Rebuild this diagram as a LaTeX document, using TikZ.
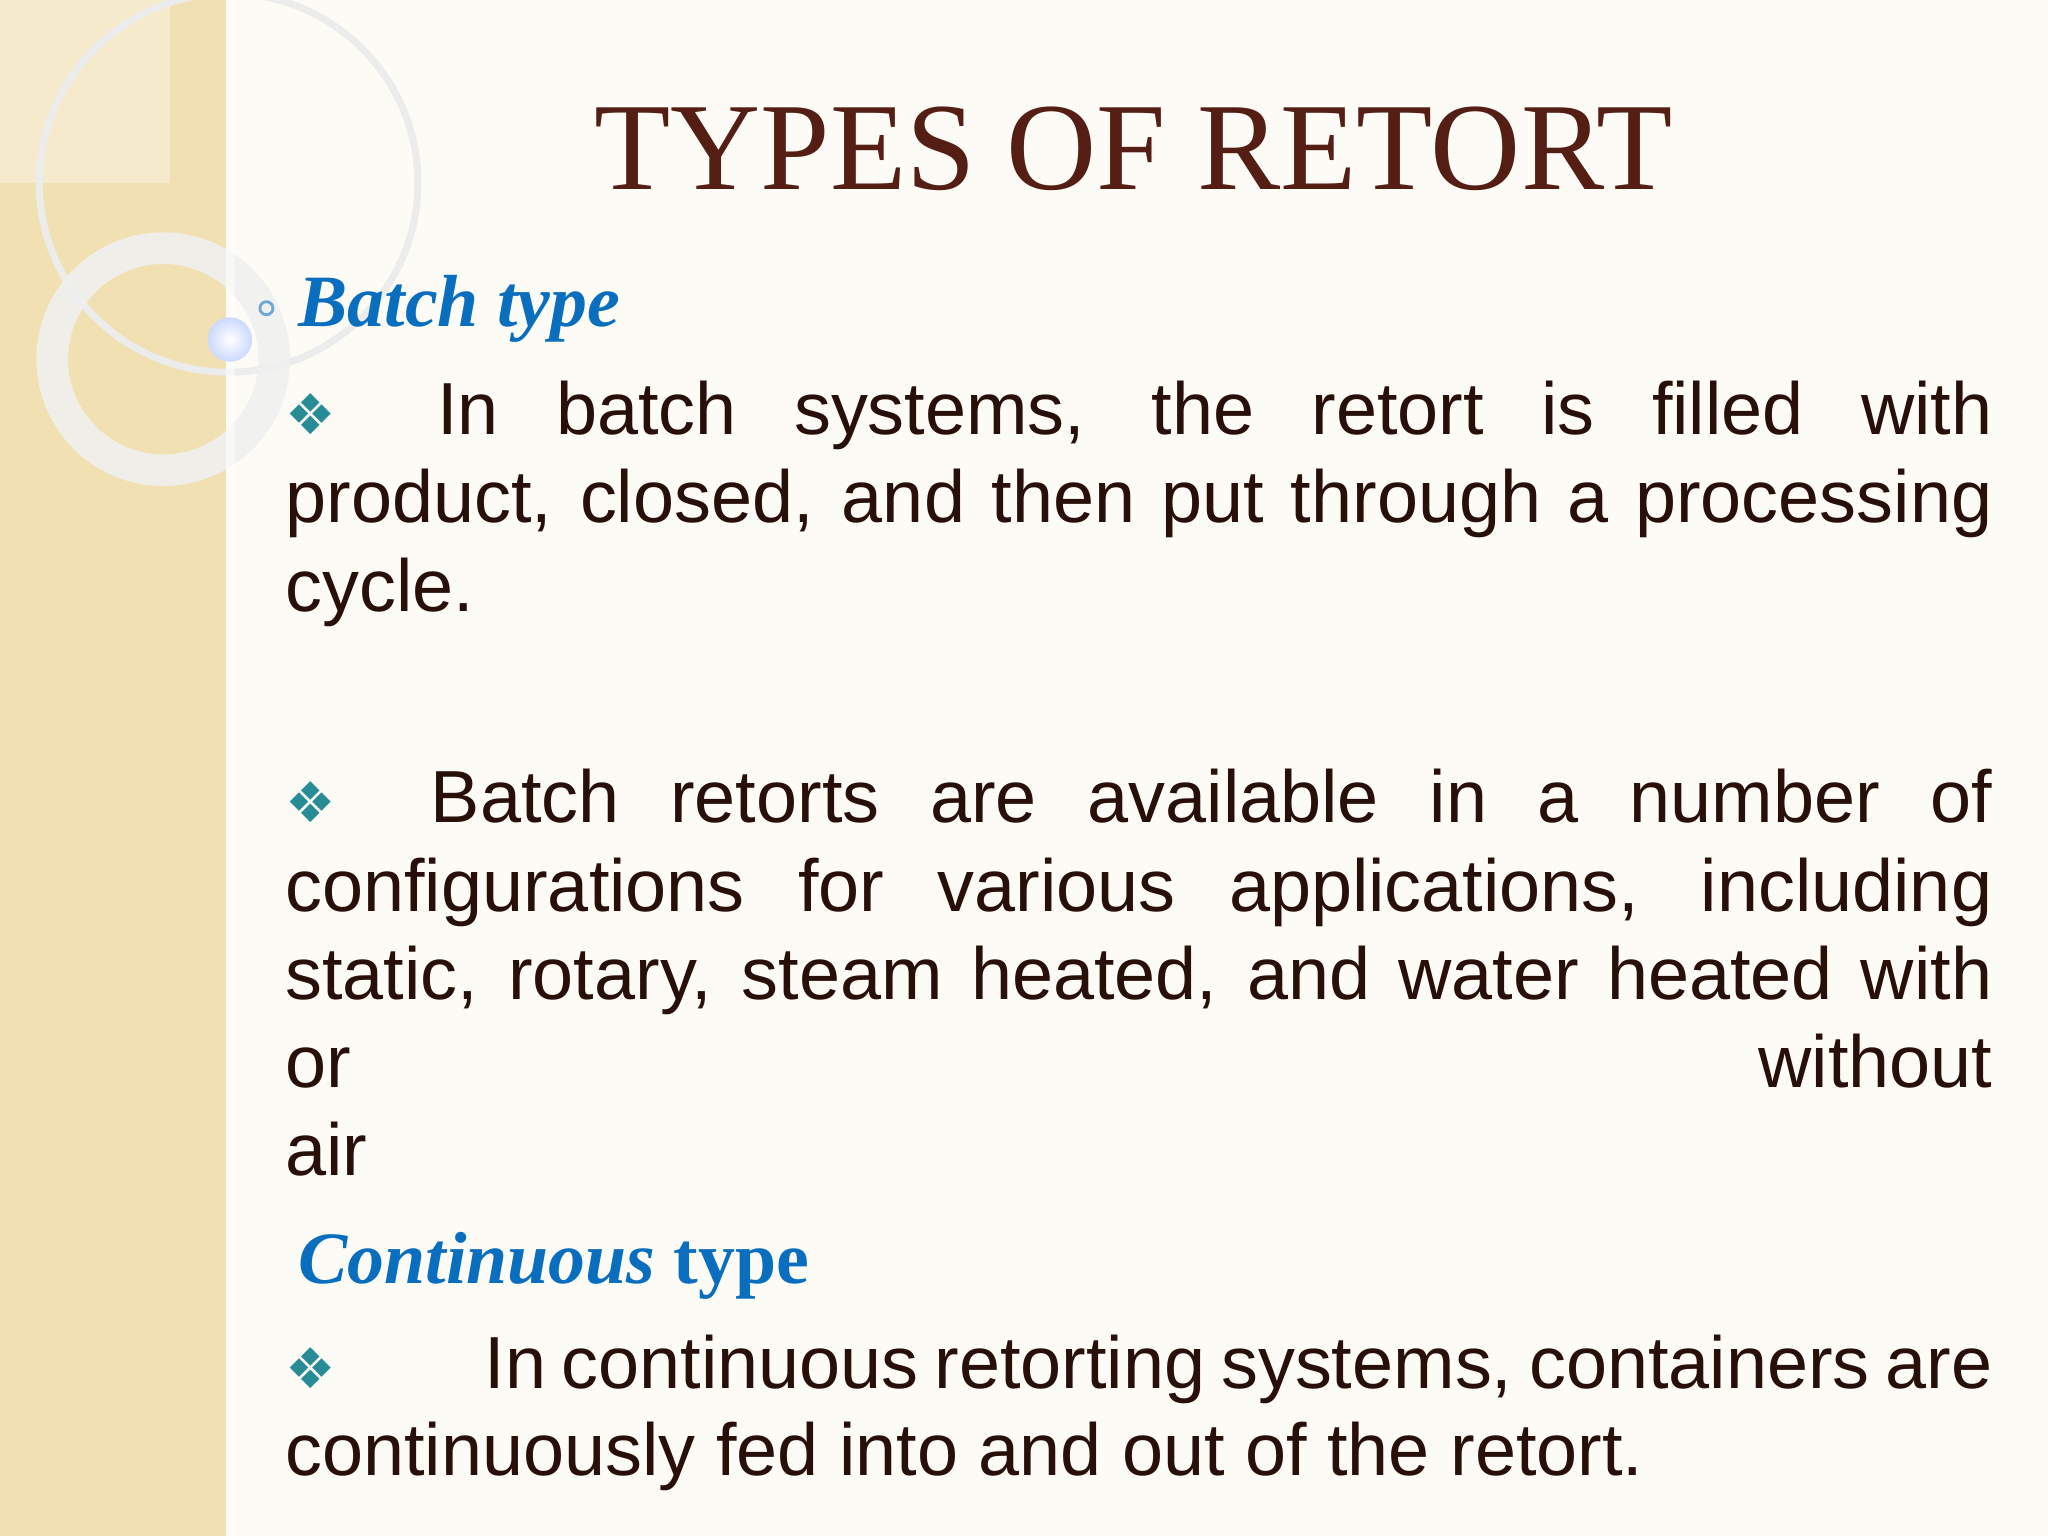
\documentclass[tikz,border=0pt]{standalone}
\usepackage{fontspec}
\setmainfont{Liberation Sans}
\newfontfamily\serifttl{Liberation Serif}
\newfontfamily\dejavu{DejaVu Sans}
\definecolor{bandc}{RGB}{240,224,178}
\definecolor{pagec}{RGB}{253,251,246}
\definecolor{titlec}{RGB}{85,30,20}
\definecolor{headc}{RGB}{10,110,190}
\definecolor{bodyc}{RGB}{40,15,10}
\definecolor{bulc}{RGB}{40,140,150}
\newcommand{\bul}{{\dejavu\color{bulc}\fontsize{16pt}{20pt}\selectfont ❖}}
\newcommand{\jline}[1]{\makebox[17.07cm][s]{#1}}
\tikzset{body/.style={anchor=base west,inner sep=0pt,text=bodyc,font=\fontsize{21pt}{25pt}\selectfont},
 head/.style={anchor=base west,inner sep=0pt,text=headc,font=\serifttl\fontsize{21pt}{25pt}\selectfont\bfseries}}
\begin{document}
\begin{tikzpicture}[x=0.01306cm,y=-0.01306cm]
\useasboundingbox (0,0) rectangle (1568,1176);
\fill[pagec] (0,0) rectangle (1568,1176);
\fill[bandc] (0,0) rectangle (173,1176);
\fill[white,opacity=0.35] (0,0) rectangle (130,140);
\begin{scope}
\clip (0,0) rectangle (1568,1176);
\draw[white!85!gray,line width=2pt] (175,140) circle (145);
\draw[white!88!gray,line width=9pt,opacity=0.9] (125,275) circle (85);
\end{scope}
\fill[white,opacity=0.5] (173,0) rectangle (180,1176);
\shade[inner color=white,outer color=cyan!25!blue!20] (176,260) circle (17);
\draw[headc!60,line width=0.8pt] (204,236) circle (5);
\node[anchor=base,inner sep=0pt,text=titlec,font=\serifttl\fontsize{35.5pt}{40pt}\selectfont] (title) at (868,145) {TYPES OF RETORT};
\node[head] (h1) at (228,250) {\itshape Batch type};
\node[body] (l1) at (218,333) {\jline{\bul\hspace{0.6em} In batch systems, the retort is filled with}};
\node[body] (l2) at (218,400) {\jline{product, closed, and then put through a processing}};
\node[body] (l3) at (218,468) {cycle.};
\node[body] (l4) at (218,630) {\jline{\bul\hspace{0.6em} Batch retorts are available in a number of}};
\node[body] (l5) at (218,698) {\jline{configurations for various applications, including}};
\node[body] (l6) at (218,765) {\jline{static, rotary, steam heated, and water heated with}};
\node[body] (l7) at (218,833) {\jline{or \hfill without}};
\node[body] (l8) at (218,900) {air};
\node[head] (h2) at (228,983) {\itshape Continuous\upshape\ type};
\node[body] (l9) at (218,1063) {\jline{\bul\hspace{1.8em} In continuous retorting systems, containers are}};
\node[body] (l10) at (218,1130) {continuously fed into and out of the retort.};
\end{tikzpicture}
\end{document}
